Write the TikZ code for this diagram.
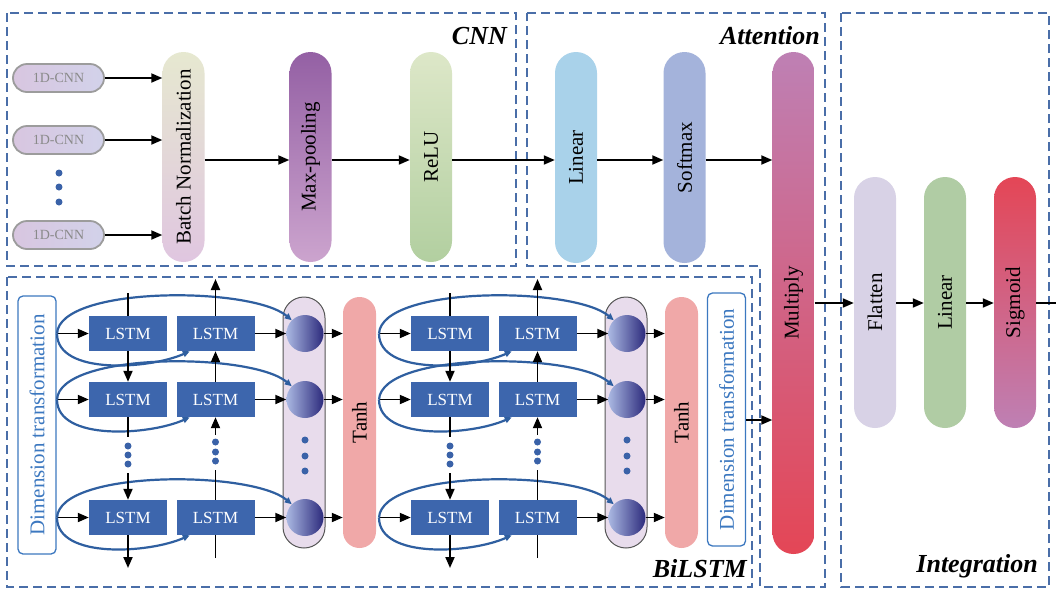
\documentclass[tikz,border=0pt]{standalone}
\usepackage{fontspec}
\setmainfont{Liberation Serif}
\usetikzlibrary{arrows.meta,calc}
\definecolor{dashblue}{HTML}{4A6EA8}
\definecolor{lstmblue}{HTML}{3D66AD}
\definecolor{curveblue}{HTML}{2F5FA0}
\definecolor{dimblue}{HTML}{3C78C0}
\definecolor{dotblue}{HTML}{3A62A8}
\definecolor{cnnfill}{HTML}{D8C6E0}
\definecolor{cnnfillb}{HTML}{D2D2EA}
\definecolor{cnnborder}{HTML}{9C9C9C}
\definecolor{cnntext}{HTML}{8A8A8A}
\definecolor{bntop}{HTML}{E6E8D0}
\definecolor{bnbot}{HTML}{E0C6E0}
\definecolor{mptop}{HTML}{9460A4}
\definecolor{mpbot}{HTML}{CCA4CE}
\definecolor{relutop}{HTML}{DDE7C8}
\definecolor{relubot}{HTML}{B2CFA0}
\definecolor{linfill}{HTML}{A9D2EA}
\definecolor{softfill}{HTML}{A4B3DB}
\definecolor{mauve}{HTML}{BE80B4}
\definecolor{hotpink}{HTML}{E46AA0}
\definecolor{redpink}{HTML}{E44656}
\definecolor{flatfill}{HTML}{D8D2E6}
\definecolor{lintwofill}{HTML}{B0CCA4}
\definecolor{tanhfill}{HTML}{F0A8A8}
\definecolor{cirpill}{HTML}{E8DCEC}
\definecolor{cpborder}{HTML}{555555}
\definecolor{cirl}{HTML}{AAB8E2}
\definecolor{cirr}{HTML}{2C2A7C}
\tikzset{
  pill/.style={rectangle, rounded corners=21pt, minimum width=42pt, inner sep=0pt, draw=none},
  lbl/.style={rotate=90, font=\fontsize{21}{25}\selectfont, inner sep=0pt},
  arr/.style={line width=1.9pt, -{Triangle[length=11pt,width=9pt]}},
  pline/.style={line width=1.9pt},
  dbox/.style={draw=dashblue, line width=1.4pt, dash pattern=on 9pt off 5pt},
  ttl/.style={font=\fontsize{26}{30}\selectfont\bfseries\itshape, anchor=base east, inner sep=0pt},
  cnnbox/.style={rectangle, rounded corners=14pt, minimum width=91pt, minimum height=28pt, draw=cnnborder, line width=1.8pt, left color=cnnfill, right color=cnnfillb, font=\fontsize{14}{16}\selectfont, text=cnntext, inner sep=0pt},
  lstm/.style={rectangle, fill=lstmblue, minimum width=78pt, minimum height=35pt, text=white, font=\fontsize{17}{20}\selectfont, inner sep=0pt},
  cir/.style={circle, minimum size=37pt, inner sep=0pt, left color=cirl, right color=cirr},
  bdot/.style={circle, fill=dotblue, minimum size=7pt, inner sep=0pt},
  bcurve/.style={draw=curveblue, line width=2.2pt, -{Triangle[length=7pt,width=6pt]}},
  dimbox/.style={rectangle, rounded corners=5pt, draw=dimblue, line width=1.3pt, minimum width=38pt, inner sep=0pt},
  cpill/.style={rectangle, rounded corners=21pt, minimum width=42pt, minimum height=251pt, fill=cirpill, draw=cpborder, line width=1pt, inner sep=0pt},
}
\begin{document}
\begin{tikzpicture}[x=1pt,y=-1pt]
\useasboundingbox (0,0) rectangle (1056,590);
\fill[white] (0,0) rectangle (1056,590);
% dashed frames
\draw[dbox] (7,13) rectangle (516,266);
\draw[dbox] (527,13) -- (825,13) -- (825,587) -- (760,587) -- (760,266) -- (527,266) -- cycle;
\draw[dbox] (7,277) rectangle (752,587);
\draw[dbox] (841,13) rectangle (1049,587);
% titles
\node[ttl] (tcnn) at (507,44) {CNN};
\node[ttl] (tatt) at (820,44) {Attention};
\node[ttl] (tbil) at (747,577) {BiLSTM};
\node[ttl] (tint) at (1038,572) {Integration};
% CNN part
\node[cnnbox] (c1) at (58.5,78) {1D-CNN};
\node[cnnbox] (c2) at (58.5,140) {1D-CNN};
\node[cnnbox] (c3) at (58.5,235) {1D-CNN};
\node[bdot] (cd1) at (59,173) {};
\node[bdot] (cd2) at (59,187) {};
\node[bdot] (cd3) at (59,202) {};
\node[pill, minimum height=210pt, top color=bntop, bottom color=bnbot] (bn) at (183.5,157) {};
\node[lbl] (bnt) at (bn.center) {Batch Normalization};
\node[pill, minimum height=210pt, top color=mptop, bottom color=mpbot] (mp) at (310.5,157) {};
\node[lbl] (mpt) at (mp.center) {Max-pooling};
\node[pill, minimum height=210pt, top color=relutop, bottom color=relubot] (re) at (431,157) {};
\node[lbl] (ret) at (re.center) {ReLU};
% Attention part
\node[pill, minimum height=211pt, fill=linfill] (li) at (576,157.5) {};
\node[lbl] (lit) at (li.center) {Linear};
\node[pill, minimum height=211pt, fill=softfill] (sm) at (684.5,157.5) {};
\node[lbl] (smt) at (sm.center) {Softmax};
\node[pill, minimum height=502pt, top color=mauve, middle color=hotpink, bottom color=redpink] (mul) at (793.5,303) {};
\node[lbl] (mult) at (mul.center) {Multiply};
% Integration part
\node[pill, minimum height=251pt, fill=flatfill] (fl) at (875,302.5) {};
\node[lbl] (flt) at (fl.center) {Flatten};
\node[pill, minimum height=251pt, fill=lintwofill] (lt) at (945,302.5) {};
\node[lbl] (ltt) at (lt.center) {Linear};
\node[pill, minimum height=251pt, top color=redpink, middle color=hotpink, bottom color=mauve] (sg) at (1015,302.5) {};
\node[lbl] (sgt) at (sg.center) {Sigmoid};
% CNN / attention / integration connectors
\draw[arr] (c1.east) -- (c1.east -| bn.west);
\draw[arr] (c2.east) -- (c2.east -| bn.west);
\draw[arr] (c3.east) -- (c3.east -| bn.west);
\coordinate (ya) at (0,160);
\coordinate (yb) at (0,303);
\coordinate (yc) at (0,420);
\coordinate (out) at (1056,303);
\draw[arr] (bn.east |- ya) -- (mp.west |- ya);
\draw[arr] (mp.east |- ya) -- (re.west |- ya);
\draw[arr] (re.east |- ya) -- (li.west |- ya);
\draw[arr] (li.east |- ya) -- (sm.west |- ya);
\draw[arr] (sm.east |- ya) -- (mul.west |- ya);
\draw[arr] (mul.east |- yb) -- (fl.west |- yb);
\draw[arr] (fl.east |- yb) -- (lt.west |- yb);
\draw[arr] (lt.east |- yb) -- (sg.west |- yb);
\draw[pline] (sg.east |- yb) -- (out);
% dimension boxes
\node[dimbox, minimum height=258pt] (dimL) at (37,425) {};
\node[lbl, text=dimblue] (dimLt) at (dimL.center) {Dimension transformation};
\node[dimbox, minimum height=253pt] (dimR) at (726.5,419.5) {};
\node[lbl, text=dimblue] (dimRt) at (dimR.center) {Dimension transformation};
\draw[arr] (dimR.east |- yc) -- (mul.west |- yc);
% BiLSTM blocks
\foreach \b/\o in {L/0,R/322}{
  \node[cpill] (cp\b) at (304+\o,422.5) {};
  \node[pill, minimum width=33pt, rounded corners=16.5pt, minimum height=251pt, fill=tanhfill] (th\b) at (359.5+\o,422.5) {};
  \node[lbl] (tt\b) at (th\b.center) {Tanh};
  \foreach \r/\y in {1/333.5,2/399.5,3/517.5}{
    \node[lstm] (f\b\r) at (128+\o,\y) {LSTM};
    \node[lstm] (g\b\r) at (215.5+\o,\y) {LSTM};
    \node[cir] (o\b\r) at (305+\o,\y) {};
    \coordinate (s\b\r) at (57+\o,\y);
    \draw[arr] (s\b\r) -- (f\b\r.west);
    \draw[arr] (g\b\r.east) -- (o\b\r.west);
    \draw[arr] (o\b\r.east) -- (o\b\r.east -| th\b.west);
    \draw[bcurve] (s\b\r) .. controls +(3,-48) and +(-40,-34) .. (o\b\r.north west);
    \draw[bcurve] (s\b\r) .. controls +(0,42) and +(-40,18) .. ($(g\b\r.south west)+(13.5,0)$);
  }
  \coordinate (ft\b) at (128+\o,293);
  \coordinate (fb\b) at (128+\o,568);
  \coordinate (fmA\b) at (128+\o,437);
  \coordinate (fmB\b) at (128+\o,473);
  \draw[pline] (ft\b) -- (f\b1.north);
  \draw[arr] (f\b1.south) -- (f\b2.north);
  \draw[pline] (f\b2.south) -- (fmA\b);
  \draw[arr] (fmB\b) -- (f\b3.north);
  \draw[arr] (f\b3.south) -- (fb\b);
  \coordinate (gt\b) at (215.5+\o,279);
  \coordinate (gb\b) at (215.5+\o,558);
  \coordinate (gmA\b) at (215.5+\o,470);
  \coordinate (gmB\b) at (215.5+\o,435);
  \draw[pline] (gb\b) -- (g\b3.south);
  \draw[pline] (g\b3.north) -- (gmA\b);
  \draw[arr] (gmB\b) -- (g\b2.south);
  \draw[arr] (g\b2.north) -- (g\b1.south);
  \draw[arr] (g\b1.north) -- (gt\b);
  \foreach \i/\yf/\yg/\yo in {1/446/442/440,2/455/452/456,3/464/461/471}{
    \node[bdot] (fd\b\i) at (128+\o,\yf) {};
    \node[bdot] (gd\b\i) at (215.5+\o,\yg) {};
    \node[bdot] (od\b\i) at (305+\o,\yo) {};
  }
}
\end{tikzpicture}
\end{document}
